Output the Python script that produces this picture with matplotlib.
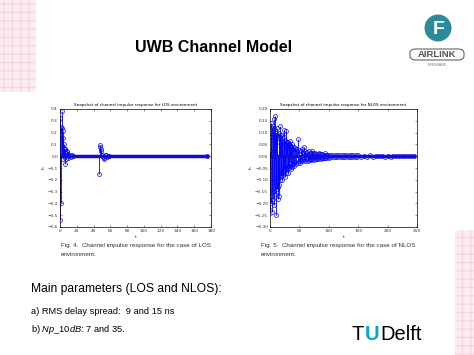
import numpy as np
import matplotlib.pyplot as plt
from matplotlib.patches import Rectangle, Ellipse, FancyBboxPatch

plt.rcParams["mathtext.fontset"] = "custom"
plt.rcParams["mathtext.it"] = "Liberation Sans:italic"
plt.rcParams["mathtext.rm"] = "Liberation Sans"

# LOS impulse response taps (t, h)
los_t = [0, 0.3, 0.6, 1, 2, 2.5, 3, 3.5, 4, 4.5, 5, 5.5, 6, 6.5, 7, 7.5, 8, 8.5, 9,
         10, 11, 12, 13, 14, 15,
         47, 47.3, 48, 48.5, 49, 50, 51, 52, 53, 54, 55, 56, 57, 58, 175]
los_h = [-0.54, 0.32, -0.40, 0.25, 0.386, 0.24, 0.21, -0.02, 0.157, 0.10, 0.07, 0.065, -0.063, 0.06, 0.03, -0.02, 0.04, 0.035, -0.015,
         0.015, 0.005, 0.008, -0.004, 0.006, 0.002,
         -0.15, 0.094, 0.08, 0.06, 0.043, 0.01, -0.01, -0.023, -0.012, 0.01, 0.008, -0.005, 0.003, 0.002, 0.001]

# NLOS impulse response taps (integer delays)
nlos_t = list(range(0, 101)) + list(range(102, 152, 2)) + list(range(155, 250, 5))
nlos_h = [0.02, 0.14, -0.20, -0.238, 0.12, 0.095, 0.156, -0.205, 0.09, 0.17,
          -0.12, -0.25, 0.08, -0.18, -0.13, 0.06, -0.17, 0.13, -0.07, 0.09,
          -0.10, 0.05, -0.08, 0.11, -0.06, 0.07, -0.09, 0.04, 0.107, -0.05,
          0.06, -0.07, 0.05, -0.04, 0.065, -0.055, 0.03, -0.045, 0.05, -0.03,
          0.04, -0.04, 0.035, -0.025, 0.03, -0.035, 0.02, -0.03, 0.072, -0.02,
          0.025, -0.03, 0.02, -0.015, 0.03, -0.02, 0.015, 0.04, -0.015, 0.02,
          -0.02, 0.015, -0.012, 0.018, -0.02, 0.01, -0.015, 0.02, -0.01, 0.012,
          -0.015, 0.024, -0.01, 0.012, -0.014, 0.01, -0.012, 0.015, -0.008, 0.01,
          -0.012, 0.009, -0.01, 0.012, -0.007, 0.008, -0.01, 0.009, -0.006, 0.008,
          -0.009, 0.007, -0.006, 0.013, -0.006, 0.007, -0.008, 0.006, -0.005, 0.006,
          -0.006,
          0.005, -0.004, 0.006, -0.005, 0.004, -0.005, 0.006, -0.004, 0.005, -0.003,
          0.004, -0.005, 0.003, -0.004, 0.005, -0.003, 0.004, -0.003, 0.003, -0.004,
          0.003, -0.003, 0.004, -0.002, 0.003,
          -0.002, 0.002, -0.002, 0.003, -0.002, 0.002, -0.001, 0.002, -0.002, 0.001,
          -0.002, 0.001, -0.001, 0.002, -0.001, 0.001, -0.001, 0.001, 0.001]

# NLOS extra taps in between (half delays, early part)
nlos_t2 = [0.5, 1.5, 2.5, 3.5, 4.5, 5.5, 6.5, 7.5, 8.5, 9.5,
           10.5, 11.5, 12.5, 13.5, 14.5, 15.5, 16.5, 17.5, 18.5, 19.5,
           20.5, 21.5, 22.5, 23.5, 24.5, 25.5, 26.5, 27.5, 28.5, 29.5,
           30.5, 31.5, 32.5, 33.5, 34.5, 35.5, 36.5, 37.5, 38.5, 39.5]
nlos_h2 = [-0.23, 0.10, 0.08, -0.15, -0.18, 0.13, -0.11, 0.12, -0.16, 0.10,
           0.09, -0.14, 0.12, -0.09, 0.10, -0.12, 0.08, -0.10, 0.06, -0.08,
           0.09, -0.07, 0.06, -0.05, 0.08, -0.06, 0.05, -0.07, 0.04, 0.06,
           -0.04, 0.05, -0.05, 0.04, -0.03, 0.045, -0.04, 0.03, -0.035, 0.03]

fig = plt.figure(figsize=(4.74, 3.55), dpi=100)
W, H = 474, 355

def fx(px):
    return px / W

def fy(py):
    return 1 - py / H

# pink decoration
fig.patches.append(Rectangle((0, fy(92)), fx(36), 92 / H, transform=fig.transFigure,
                             facecolor="#fcedf1", edgecolor="#f5d7df", hatch="++", lw=0))
fig.patches.append(Rectangle((fx(455), 0), fx(19), 125 / H, transform=fig.transFigure,
                             facecolor="#fcedf1", edgecolor="#f5d7df", hatch="++", lw=0))

# title
fig.text(fx(214), fy(48), "UWB Channel Model", ha="center", va="center",
         fontsize=11.5, fontweight="bold", family="Liberation Sans")

# airlink logo
fig.patches.append(Ellipse((fx(438), fy(28)), 27 / W, 27 / H, transform=fig.transFigure,
                           facecolor="#2b8b9b", edgecolor="none"))
fig.text(fx(439), fy(29), "F", ha="center", va="center", color="white",
         fontsize=14, fontweight="bold", family="Liberation Sans")
fig.patches.append(FancyBboxPatch((fx(410), fy(60)), fx(54), 11 / H,
                                  boxstyle="round,pad=0,rounding_size=0.012",
                                  transform=fig.transFigure, facecolor="white",
                                  edgecolor="#666666", lw=0.8))
fig.text(fx(437), fy(54.5), "AIRLINK", ha="center", va="center", color="#555555",
         fontsize=6.8, fontweight="bold", family="Liberation Sans")
fig.text(fx(437), fy(65), "FREEBAND", ha="center", va="center", color="#777777",
         fontsize=2.5, family="Liberation Sans")

def style_stem(ax, t, h):
    markerline, stemlines, baseline = ax.stem(t, h, linefmt="b-", markerfmt="bo", basefmt="b-")
    markerline.set_markersize(2.8)
    markerline.set_markerfacecolor("none")
    markerline.set_markeredgewidth(0.5)
    stemlines.set_linewidth(0.6)
    baseline.set_linewidth(2.5)
    baseline.set_color("#1010c8")

def stem_panel(rect, t, h, xlim, ylim, xticks, yticks, title):
    ax = fig.add_axes(rect)
    style_stem(ax, t, h)
    ax.set_xlim(xlim)
    ax.set_ylim(ylim)
    ax.set_xticks(xticks)
    ax.set_yticks(yticks)
    ax.tick_params(direction="in", top=True, right=True, labelsize=3.1, length=1.5,
                   width=0.4, pad=1.5, colors="#333333")
    for s in ax.spines.values():
        s.set_linewidth(0.5)
    ax.set_title(title, fontsize=3, pad=2)
    ax.set_xlabel("t", fontsize=3, labelpad=1.5)
    ax.set_ylabel("h", fontsize=3, labelpad=1.5, rotation=90)
    return ax

stem_panel([fx(60), fy(227), fx(151), 118 / H], los_t, los_h, (0, 180), (-0.6, 0.4),
           np.arange(0, 181, 20), np.round(np.arange(-0.6, 0.41, 0.1), 2),
           "Snapshot of channel impulse response for LOS environment")
ax2 = stem_panel([fx(270), fy(227), fx(147), 118 / H], nlos_t, nlos_h, (0, 250), (-0.3, 0.2),
                 np.arange(0, 251, 50), np.round(np.arange(-0.3, 0.21, 0.05), 2),
                 "Snapshot of channel impulse response for NLOS environment")
style_stem(ax2, nlos_t2, nlos_h2)

# captions
cap = dict(fontsize=4.5, color="#333333", family="Liberation Sans", va="center", ha="left")
fig.text(fx(61), fy(245), "Fig. 4.  Channel impulse response for the case of LOS", **cap)
fig.text(fx(61), fy(255), "environment.", **cap)
fig.text(fx(261), fy(245), "Fig. 5.  Channel impulse response for the case of NLOS", **cap)
fig.text(fx(261), fy(255), "environment.", **cap)

# bullets
fig.text(fx(31), fy(289), "Main parameters (LOS and NLOS):", fontsize=8.7,
         family="Liberation Sans", va="center", ha="left")
fig.text(fx(31), fy(311), "a) RMS delay spread:  9 and 15 ns", fontsize=6.7,
         family="Liberation Sans", va="center", ha="left")
fig.text(fx(31), fy(329), r"b) $\mathit{Np\_10dB}$: 7 and 35.", fontsize=6.7,
         family="Liberation Sans", va="center", ha="left")

# TU Delft logo
t1 = fig.text(fx(352), fy(334), "T", fontsize=14.5, color="black",
              family="Liberation Sans", va="center", ha="left")
t2 = fig.text(0, 0, "U", fontsize=14.5, color="#00a6d6", fontweight="bold",
              family="Liberation Sans", va="center", ha="left")
t3 = fig.text(0, 0, "Delft", fontsize=14.5, color="black",
              family="Liberation Sans", va="center", ha="left")
fig.canvas.draw()
r = fig.canvas.get_renderer()
e1 = t1.get_window_extent(r)
t2.set_position((e1.x1 / fig.bbox.width, fy(334)))
e2 = t2.get_window_extent(r)
t3.set_position((e2.x1 / fig.bbox.width + 0.002, fy(334)))

fig.savefig("out.png", dpi=100)
